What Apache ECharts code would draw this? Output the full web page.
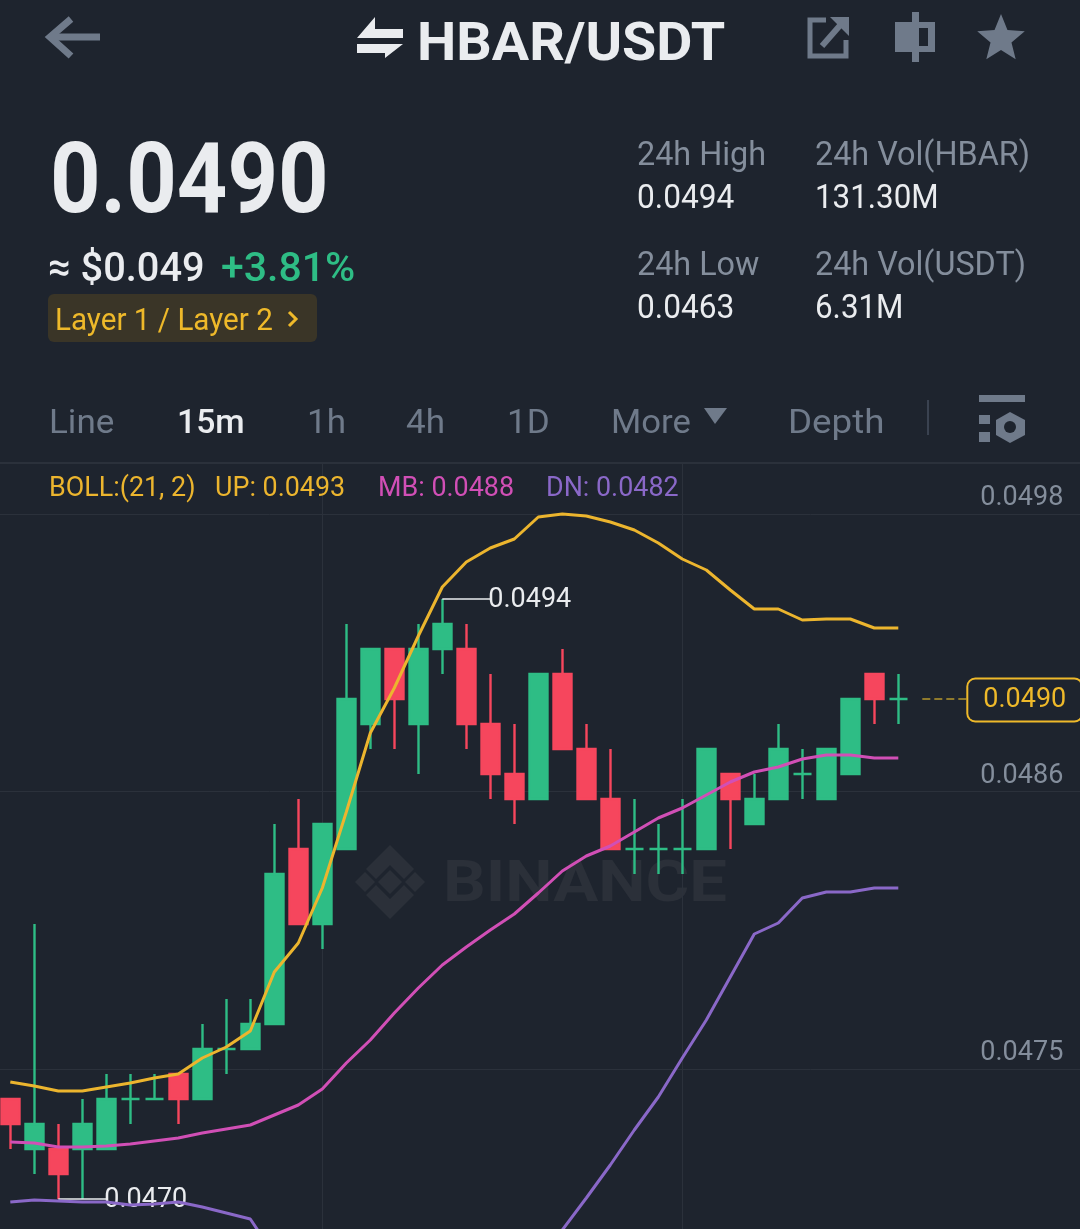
<!DOCTYPE html>
<html>
<head>
<meta charset="utf-8">
<title>HBAR/USDT</title>
<script src="https://cdn.jsdelivr.net/npm/echarts@6/dist/echarts.min.js"></script>
<style>
html, body { margin: 0; padding: 0; background: #1e242e; }
#main { width: 1080px; height: 1229px; }
</style>
</head>
<body>
<div id="main"></div>
<script>
// open, close, low, high in 15m bars
var opens  = [0.0474,0.0472,0.0472,0.0472,0.0472,0.0474,0.0474,0.0475,0.0474,0.0476,0.0476,0.0477,0.0484,0.0481,0.0484,0.0489,0.0492,0.0489,0.0492,0.0492,0.0489,0.0487,0.0486,0.0491,0.0488,0.0486,0.0484,0.0484,0.0484,0.0484,0.0487,0.0485,0.0486,0.0487,0.0486,0.0487,0.0491,0.0490];
var closes = [0.0473,0.0473,0.0471,0.0473,0.0474,0.0474,0.0474,0.0474,0.0476,0.0476,0.0477,0.0483,0.0481,0.0485,0.0490,0.0492,0.0490,0.0492,0.0493,0.0489,0.0487,0.0486,0.0491,0.0488,0.0486,0.0484,0.0484,0.0484,0.0484,0.0488,0.0486,0.0486,0.0488,0.0487,0.0488,0.0490,0.0490,0.0490];
var lows   = [0.0472,0.0471,0.0470,0.0470,0.0472,0.0473,0.0474,0.0473,0.0474,0.0475,0.0476,0.0477,0.0481,0.0480,0.0484,0.0488,0.0488,0.0487,0.0491,0.0488,0.0486,0.0485,0.0486,0.0488,0.0486,0.0484,0.0483,0.0483,0.0483,0.0484,0.0484,0.0485,0.0486,0.0486,0.0486,0.0487,0.0489,0.0489];
var highs  = [0.0474,0.0481,0.0473,0.0474,0.0475,0.0475,0.0475,0.0475,0.0477,0.0478,0.0478,0.0485,0.0486,0.0485,0.0493,0.0492,0.0492,0.0493,0.0494,0.0493,0.0491,0.0489,0.0491,0.0492,0.0489,0.0488,0.0486,0.0485,0.0486,0.0488,0.0487,0.0487,0.0489,0.0488,0.0488,0.0490,0.0491,0.0491];

var bollUp = [0.047468,0.047452,0.047432,0.047432,0.047448,0.047464,0.047484,0.0475,0.047564,0.047608,0.047672,0.047908,0.048024,0.048244,0.048548,0.048864,0.049044,0.049252,0.049448,0.049548,0.049604,0.04964,0.049728,0.04974,0.049732,0.049708,0.049676,0.049624,0.04956,0.049516,0.049436,0.04936,0.04936,0.049316,0.04932,0.04932,0.049284,0.049284];
var bollMb = [0.047228,0.047224,0.047208,0.047208,0.047212,0.04722,0.047232,0.047244,0.047264,0.04728,0.047296,0.047336,0.047376,0.04744,0.047544,0.047636,0.047744,0.047844,0.047936,0.048008,0.048076,0.04814,0.048224,0.048312,0.048372,0.048412,0.048468,0.048524,0.048564,0.048616,0.048668,0.048708,0.048728,0.04876,0.048776,0.048776,0.048764,0.048764];
var bollDn = [0.046988,0.046996,0.046992,0.046988,0.046988,0.046976,0.04698,0.046988,0.046968,0.046944,0.04692,0.046776,0.046656,0.046516,0.046356,0.046256,0.046216,0.046256,0.046356,0.046436,0.046556,0.046676,0.046776,0.046876,0.047004,0.047136,0.047276,0.047408,0.047564,0.047716,0.047888,0.04806,0.048104,0.048204,0.048228,0.048228,0.048244,0.048244];

var yTickValues = [0.04974, 0.04863, 0.04752];
var yTickLabels = ['0.0498', '0.0486', '0.0475'];
var timeLines = [13, 28];
var lastPrice = 0.0490;
var highPrice = 0.0494;
var lowPrice = 0.0470;

var categories = [];
for (var i = 0; i < 46; i++) {
    categories.push(String(i));
}
var candles = [];
for (var a = 0; a < opens.length; a++) {
    candles.push([opens[a], closes[a], lows[a], highs[a]]);
}

var BG = '#1e242e', GREY = '#848e9c', ICON = '#6f7a8a', WHITE = '#eaecef';
var YELLOW = '#eeb92a', GREEN = '#2ebd85', RED = '#f6465d';
var LINE_YELLOW = '#ecb52e', LINE_PINK = '#d14fb6', LINE_PURPLE = '#8a68c8';
var FONT = 'Roboto';

function txt(x, y, text, size, color, weight, sx) {
    return {
        type: 'text', x: x, y: y + size * 0.09, scaleX: sx || 0.9, z: 10,
        style: {text: text, fontSize: size, fontFamily: FONT, fontWeight: weight || 'normal', fill: color, align: 'left', verticalAlign: 'middle'}
    };
}
function poly(points, color, z) {
    return {type: 'polygon', z: z || 10, shape: {points: points}, style: {fill: color}};
}
function stroke(points, color, w) {
    return {type: 'polyline', z: 10, shape: {points: points}, style: {stroke: color, lineWidth: w, fill: null}};
}

var starPts = [];
for (var s = 0; s < 10; s++) {
    var r = s % 2 === 0 ? 25 : 11;
    var ang = -Math.PI / 2 + s * Math.PI / 5;
    starPts.push([1001 + r * Math.cos(ang), 39 + r * Math.sin(ang)]);
}
var WM = '#2b3039';

var graphics = [
    // top bar
    stroke([[100, 37], [50, 37]], ICON, 7),
    stroke([[71, 19], [50, 37], [71, 56]], ICON, 7),
    poly([[357, 38], [375, 17], [375, 29], [403, 29], [403, 38]], WHITE),
    poly([[357, 44], [403, 44], [385, 58], [385, 53], [357, 53]], WHITE),
    txt(417, 42, 'HBAR/USDT', 54, WHITE, 'bold', 1.03),
    stroke([[826, 20], [810, 20], [810, 56], [846, 56], [846, 40]], ICON, 5),
    stroke([[822, 46], [843, 22]], ICON, 6),
    poly([[830, 17], [849, 17], [849, 36]], ICON),
    {type: 'rect', z: 10, shape: {x: 912, y: 12, width: 7, height: 50}, style: {fill: ICON}},
    {type: 'rect', z: 10, shape: {x: 895, y: 22, width: 40, height: 30}, style: {fill: ICON}},
    {type: 'rect', z: 10, shape: {x: 919, y: 28, width: 9, height: 18}, style: {fill: BG}},
    poly(starPts, ICON),
    // price block
    txt(50, 179, '0.0490', 98, WHITE, 'bold', 0.9),
    txt(48, 267, '≈ $0.049', 41, WHITE, 500, 0.97),
    txt(221, 267, '+3.81%', 41, GREEN, 500, 1.0),
    {type: 'rect', z: 9, shape: {x: 48, y: 294, width: 269, height: 48, r: 6}, style: {fill: '#3a3527'}},
    txt(55, 319, 'Layer 1 / Layer 2', 31, YELLOW, 'normal', 0.956),
    stroke([[289, 312], [296, 319], [289, 326]], YELLOW, 3),
    txt(637, 154, '24h High', 33, GREY, 'normal', 0.98),
    txt(637, 197, '0.0494', 33, WHITE, 'normal', 0.96),
    txt(815, 154, '24h Vol(HBAR)', 33, GREY, 'normal', 0.98),
    txt(815, 197, '131.30M', 33, WHITE, 'normal', 0.95),
    txt(637, 264, '24h Low', 33, GREY, 'normal', 0.98),
    txt(637, 307, '0.0463', 33, WHITE, 'normal', 0.96),
    txt(815, 264, '24h Vol(USDT)', 33, GREY, 'normal', 0.98),
    txt(815, 307, '6.31M', 33, WHITE, 'normal', 0.95),
    // interval tabs
    txt(49, 421, 'Line', 34, ICON, 'normal', 1.03),
    txt(177, 421, '15m', 34, WHITE, 500, 0.99),
    txt(307, 421, '1h', 34, ICON, 'normal', 1.03),
    txt(406, 421, '4h', 34, ICON, 'normal', 1.03),
    txt(507, 421, '1D', 34, ICON, 'normal', 1.03),
    txt(611, 421, 'More', 34, ICON, 'normal', 1.02),
    poly([[704, 408], [727, 408], [715, 424]], ICON),
    txt(788, 421, 'Depth', 34, ICON, 'normal', 1.08),
    {type: 'rect', z: 10, shape: {x: 927, y: 400, width: 2, height: 35}, style: {fill: '#3a4250'}},
    {type: 'rect', z: 10, shape: {x: 979, y: 395, width: 46, height: 7}, style: {fill: ICON}},
    {type: 'rect', z: 10, shape: {x: 979, y: 415, width: 11, height: 9}, style: {fill: ICON}},
    {type: 'rect', z: 10, shape: {x: 979, y: 432, width: 11, height: 10}, style: {fill: ICON}},
    poly([[1010, 412], [1025, 420], [1025, 435], [1010, 443], [996, 435], [996, 420]], ICON),
    {type: 'circle', z: 10, shape: {cx: 1010, cy: 427, r: 6}, style: {fill: BG}},
    {type: 'rect', z: 1, shape: {x: 0, y: 462, width: 1080, height: 2}, style: {fill: '#2b313b'}},
    // boll legend
    txt(49, 486, 'BOLL:(21, 2)', 28, LINE_YELLOW, 'normal', 0.96),
    txt(215, 486, 'UP: 0.0493', 28, LINE_YELLOW, 'normal', 0.96),
    txt(378, 486, 'MB: 0.0488', 28, LINE_PINK, 'normal', 0.96),
    txt(546, 486, 'DN: 0.0482', 28, LINE_PURPLE, 'normal', 0.96),
    // watermark
    poly([[390, 845], [414, 869], [404, 879], [390, 865], [376, 879], [366, 869]], WM, 1),
    poly([[390, 919], [414, 895], [404, 885], [390, 899], [376, 885], [366, 895]], WM, 1),
    poly([[390, 870], [402, 882], [390, 894], [378, 882]], WM, 1),
    poly([[365, 872], [375, 882], [365, 892], [355, 882]], WM, 1),
    poly([[415, 872], [425, 882], [415, 892], [405, 882]], WM, 1),
    {type: 'text', x: 443, y: 886, z: 1, scaleX: 1.155, style: {text: 'BINANCE', fontSize: 58, fontFamily: FONT, fontWeight: 'bold', fill: WM, align: 'left', verticalAlign: 'middle'}}
];

var myChart = echarts.init(document.getElementById('main'), null, {renderer: 'canvas'});

function bollSeries(name, data, color) {
    return {
        name: name, type: 'line', data: data, showSymbol: false, silent: true, z: 5,
        lineStyle: {color: color, width: 3}
    };
}

function priceMark(from, to, price, color, w, type, label) {
    return [
        {coord: [from, price], lineStyle: {color: color, width: w, type: type}, label: label},
        {coord: [to, price]}
    ];
}
function whiteLabel(price) {
    return {show: true, position: 'end', distance: 0, offset: [-2, 1], color: WHITE, fontSize: 27, fontFamily: FONT, formatter: price.toFixed(4)};
}

var option = {
    backgroundColor: BG,
    animation: false,
    // grid runs past the window edges so one band stays 24px
    grid: {left: -1.7, top: 464, width: 1104, height: 765, outerBoundsMode: 'none'},
    xAxis: {
        type: 'category',
        data: categories,
        axisLine: {show: false},
        axisTick: {show: false},
        axisLabel: {show: false},
        splitLine: {show: false}
    },
    yAxis: {
        type: 'value',
        position: 'right',
        min: 0.04688,
        max: 0.04994,
        axisLine: {show: false},
        axisTick: {show: false, customValues: yTickValues},
        axisLabel: {
            inside: true,
            margin: 39,
            customValues: yTickValues,
            color: GREY,
            fontSize: 27,
            fontFamily: FONT,
            verticalAlign: 'bottom',
            padding: [0, 0, 2, 0],
            formatter: function (v) {
                return yTickLabels[yTickValues.indexOf(v)];
            }
        },
        splitLine: {show: true, lineStyle: {color: '#2b313b', width: 1}}
    },
    graphic: graphics,
    series: [
        {
            name: 'kline',
            type: 'candlestick',
            data: candles,
            barWidth: 18.8,
            z: 3,
            itemStyle: {color: GREEN, color0: RED, borderColor: GREEN, borderColor0: RED, borderColorDoji: GREEN, borderWidth: 2.4},
            markLine: {
                silent: true,
                symbol: 'none',
                animation: false,
                data: [
                    priceMark(18, 20, highPrice, WHITE, 1.5, 'solid', whiteLabel(highPrice)),
                    priceMark(2, 4, lowPrice, WHITE, 1.5, 'solid', whiteLabel(lowPrice)),
                    priceMark(38, 40, lastPrice, '#8f7a2c', 2, 'dashed', {
                        show: true, position: 'end', distance: 0, offset: [-2, 1],
                        color: YELLOW, fontSize: 27, fontFamily: FONT,
                        backgroundColor: BG, borderColor: YELLOW, borderWidth: 2, borderRadius: 7,
                        padding: [7, 15, 7, 15],
                        formatter: lastPrice.toFixed(4)
                    })
                ]
            }
        },
        {
            // time grid lines
            type: 'line',
            data: [],
            silent: true,
            z: 1,
            markLine: {
                silent: true,
                symbol: 'none',
                animation: false,
                z: 1,
                label: {show: false},
                lineStyle: {color: '#2b313b', width: 1, type: 'solid'},
                data: timeLines.map(function (t) { return {xAxis: t}; })
            }
        },
        bollSeries('UP', bollUp, LINE_YELLOW),
        bollSeries('MB', bollMb, LINE_PINK),
        bollSeries('DN', bollDn, LINE_PURPLE)
    ]
};

myChart.setOption(option);
</script>
</body>
</html>
